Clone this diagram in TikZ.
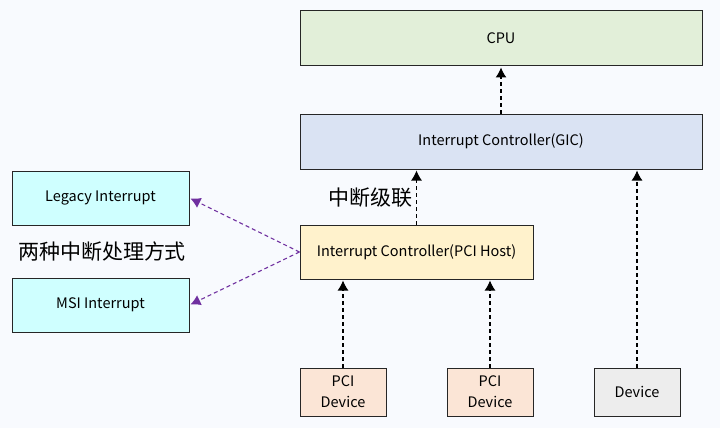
\documentclass[tikz,border=0pt]{standalone}
\usepackage{fontspec}
\setmainfont{Noto Sans CJK SC}
\usepackage{tikz}
\usetikzlibrary{arrows,arrows.meta}
\definecolor{bgcol}{HTML}{F8FAFE}
\definecolor{cpucol}{HTML}{E2EFD9}
\definecolor{giccol}{HTML}{DAE3F3}
\definecolor{hostcol}{HTML}{FFF2CC}
\definecolor{intcol}{HTML}{CFFFFF}
\definecolor{pcicol}{HTML}{FBE5D6}
\definecolor{devcol}{HTML}{EDEDED}
\definecolor{linkcol}{HTML}{7030A0}
\tikzstyle{box}=[draw=black!85,line width=1pt,inner sep=2pt,font=\fontsize{14.5}{21}\selectfont,align=center]
\tikzstyle{link}=[-{Latex[length=10pt,width=11pt]},dash pattern=on 4pt off 3pt,line width=1.1pt]

\begin{document}
\begin{tikzpicture}[x=1pt,y=-1pt,shorten >=1pt]
  \useasboundingbox[fill=bgcol] (0,0) rectangle (720,428);
  \node[box,fill=cpucol,minimum width=402pt,minimum height=55pt] (CPU) at (501,38.5) {CPU};
  \node[box,fill=giccol,minimum width=402pt,minimum height=55pt] (GIC) at (501,141.5) {Interrupt Controller(GIC)};
  \node[box,fill=hostcol,minimum width=233pt,minimum height=54pt] (HOST) at (416.5,252) {Interrupt Controller(PCI Host)};
  \node[box,fill=intcol,minimum width=177pt,minimum height=54pt] (LEG) at (100.5,198) {Legacy Interrupt};
  \node[box,fill=intcol,minimum width=177pt,minimum height=54pt] (MSI) at (100.5,305) {MSI Interrupt};
  \node[box,fill=pcicol,minimum width=86pt,minimum height=48pt] (PCIA) at (343,392) {PCI\\Device};
  \node[box,fill=pcicol,minimum width=86pt,minimum height=48pt] (PCIB) at (490,392) {PCI\\Device};
  \node[box,fill=devcol,minimum width=86pt,minimum height=48pt] (DEV) at (637,392) {Device};
  % labels
  \node[font=\fontsize{21}{24}\selectfont] (ways) at (102,252) {两种中断处理方式};
  \node[font=\fontsize{21}{24}\selectfont] (cascade) at (370,198) {中断级联};
  % arrows
  \draw[link] (GIC.north -| CPU.south) -- (CPU.south);
  \draw[link] (HOST.north) -- (HOST.north |- GIC.south);
  \draw[link] (DEV.north) -- (DEV.north |- GIC.south);
  \draw[link] (PCIA.north) -- (PCIA.north |- HOST.south);
  \draw[link] (PCIB.north) -- (PCIB.north |- HOST.south);
  \draw[link,linkcol] (HOST.west) -- (LEG.east);
  \draw[link,linkcol] (HOST.west) -- (MSI.east);
\end{tikzpicture}
\end{document}
